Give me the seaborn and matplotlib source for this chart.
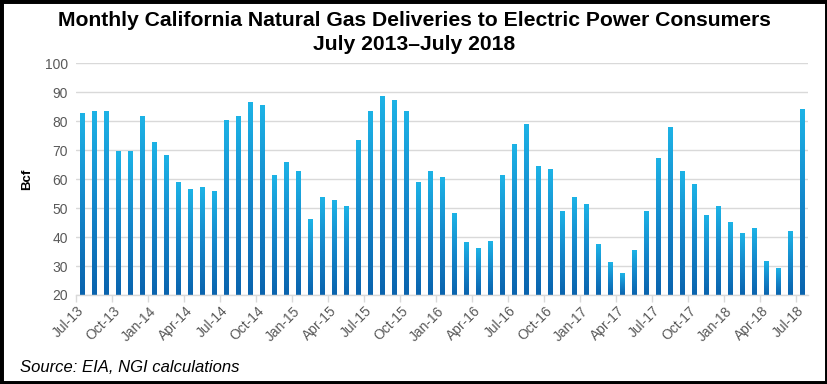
import numpy as np
import pandas as pd
import matplotlib
matplotlib.use("Agg")
import matplotlib.pyplot as plt
import seaborn as sns
from matplotlib.colors import LinearSegmentedColormap
from matplotlib.patches import Rectangle

# ---------------- data ----------------
months = [
    "Jul-13", "Aug-13", "Sep-13", "Oct-13", "Nov-13", "Dec-13",
    "Jan-14", "Feb-14", "Mar-14", "Apr-14", "May-14", "Jun-14",
    "Jul-14", "Aug-14", "Sep-14", "Oct-14", "Nov-14", "Dec-14",
    "Jan-15", "Feb-15", "Mar-15", "Apr-15", "May-15", "Jun-15",
    "Jul-15", "Aug-15", "Sep-15", "Oct-15", "Nov-15", "Dec-15",
    "Jan-16", "Feb-16", "Mar-16", "Apr-16", "May-16", "Jun-16",
    "Jul-16", "Aug-16", "Sep-16", "Oct-16", "Nov-16", "Dec-16",
    "Jan-17", "Feb-17", "Mar-17", "Apr-17", "May-17", "Jun-17",
    "Jul-17", "Aug-17", "Sep-17", "Oct-17", "Nov-17", "Dec-17",
    "Jan-18", "Feb-18", "Mar-18", "Apr-18", "May-18", "Jun-18",
    "Jul-18",
]
deliveries_bcf = [
    82.5, 83.2, 83.2, 69.7, 69.7, 81.8,
    72.5, 68.0, 58.7, 56.3, 57.0, 55.9,
    80.1, 81.8, 86.6, 85.6, 61.1, 65.9,
    62.8, 46.2, 53.8, 52.5, 50.7, 73.2,
    83.5, 88.7, 87.3, 83.2, 59.0, 62.8,
    60.7, 48.3, 38.0, 35.9, 38.6, 61.4,
    71.8, 78.7, 64.2, 63.2, 48.7, 53.8,
    51.1, 37.3, 31.1, 27.3, 35.2, 49.0,
    67.0, 78.0, 62.5, 58.3, 47.6, 50.4,
    45.2, 41.1, 43.1, 31.7, 29.0, 41.8,
    83.9,
]
y_ticks = [20, 30, 40, 50, 60, 70, 80, 90, 100]
label_every = 3

title_line1 = "Monthly California Natural Gas Deliveries to Electric Power Consumers"
title_line2 = "July 2013\u2013July 2018"
y_label = "Bcf"
source_text = "Source: EIA, NGI calculations"

# ---------------- style ----------------
sns.set_theme(style="white")
plt.rcParams['font.family'] = ['Liberation Sans', 'DejaVu Sans']

W, H = 828, 384
fig = plt.figure(figsize=(W / 100, H / 100), dpi=100)
fig.patch.set_facecolor("white")
ax = fig.add_axes([76 / W, 1 - 295 / H, 732 / W, (295 - 63.3) / H])

df = pd.DataFrame({"month": months, "value": deliveries_bcf})
sns.barplot(data=df, x="month", y="value", color="#1a9ad6", width=0.36,
            ax=ax, zorder=2, saturation=1)

ymin, ymax = y_ticks[0], y_ticks[-1]
cmap = LinearSegmentedColormap.from_list("bar", ["#0a63ad", "#1487cb", "#1db3e6"])
grad = np.linspace(0, 1, 256).reshape(-1, 1)
for p in list(ax.patches):
    x0 = p.get_x()
    w = p.get_width()
    top = p.get_y() + p.get_height()
    ax.imshow(grad, cmap=cmap, origin="lower", aspect="auto",
              extent=[x0, x0 + w, ymin, top], zorder=2, interpolation="bilinear")
    p.set_visible(False)

n = len(months)
ax.set_xlim(-0.5, n - 0.5)
ax.set_ylim(ymin, ymax)
ax.set_yticks(y_ticks)
ax.set_yticklabels([str(v) for v in y_ticks])
ax.yaxis.grid(True, color="#d9d9d9", linewidth=1, zorder=0)
ax.set_axisbelow(True)

pos = list(range(0, n, label_every))
ax.set_xticks(pos)
ax.set_xticklabels([months[i] for i in pos], rotation=45, ha="right",
                   va="center", rotation_mode="anchor")
ax.set_xticks([i - 0.5 for i in pos], minor=True)
ax.tick_params(axis="x", which="major", length=0, pad=10, labelsize=10,
               labelcolor="#595959")
ax.tick_params(axis="x", which="minor", length=5, width=1, color="#d9d9d9",
               direction="out", bottom=True)
ax.tick_params(axis="y", length=0, pad=6, labelsize=10, labelcolor="#595959")
ax.set_xlabel("")
ax.set_ylabel("")

for s in ["top", "right", "left"]:
    ax.spines[s].set_visible(False)
ax.spines["bottom"].set_color("#d9d9d9")
ax.spines["bottom"].set_linewidth(1)

fig.text(27 / W, 1 - 179 / H, y_label, rotation=90, ha="center", va="center",
         fontsize=9.5, fontweight="bold", color="black")
fig.text(0.5, 1 - 20 / H, title_line1, ha="center", va="center",
         fontsize=15.2, fontweight="bold", color="black")
fig.text(0.5, 1 - 45 / H, title_line2, ha="center", va="center",
         fontsize=15.2, fontweight="bold", color="black")
fig.text(20 / W, 1 - 368 / H, source_text, ha="left", va="center",
         fontsize=12, fontstyle="italic", color="black")

fig.add_artist(Rectangle((0, 0), 1, 1, transform=fig.transFigure, fill=False,
                         edgecolor="black", linewidth=5.0, zorder=10))

fig.savefig("out.png", dpi=100, facecolor="white")
